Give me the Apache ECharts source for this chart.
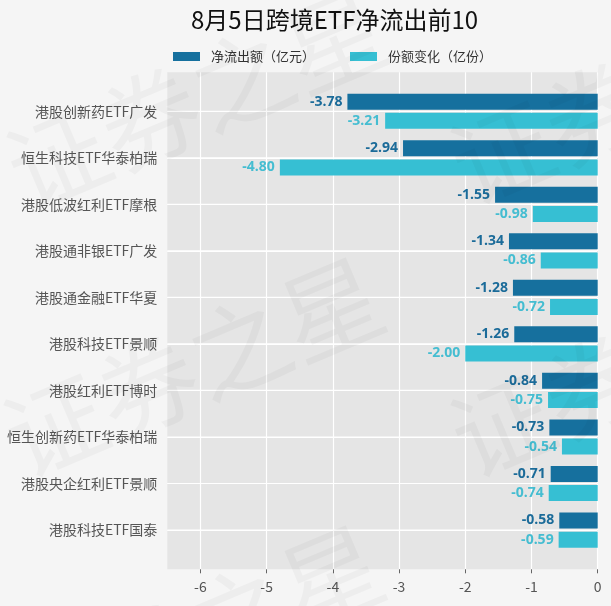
<!DOCTYPE html>
<html>
<head>
<meta charset="utf-8">
<script src="https://cdn.jsdelivr.net/npm/echarts@6/dist/echarts.min.js"></script>
<style>
  html, body { margin: 0; padding: 0; background: #f5f5f5; }
  #chart { width: 611px; height: 606px; }
</style>
</head>
<body>
<div id="chart"></div>
<script>
var categories = ['港股创新药ETF广发', '恒生科技ETF华泰柏瑞', '港股低波红利ETF摩根', '港股通非银ETF广发', '港股通金融ETF华夏',
                  '港股科技ETF景顺', '港股红利ETF博时', '恒生创新药ETF华泰柏瑞', '港股央企红利ETF景顺', '港股科技ETF国泰'];
var netOutflow = [-3.78, -2.94, -1.55, -1.34, -1.28, -1.26, -0.84, -0.73, -0.71, -0.58];
var shareChange = [-3.21, -4.80, -0.98, -0.86, -0.72, -2.00, -0.75, -0.54, -0.74, -0.59];
var xTicks = [-6, -5, -4, -3, -2, -1, 0];
var seriesNames = ['净流出额（亿元）', '份额变化（亿份）'];

var font = '"Noto Sans CJK SC", "Noto Sans", sans-serif';

// watermark text, tiled
var marks = [[12, 177], [9, 445], [9, 713], [456, 172], [456, 445]];
var graphics = marks.map(function (p) {
    return {
        type: 'text', x: p[0], y: p[1], rotation: 0.4, z: 100, silent: true,
        style: { text: '证券之星', fontSize: 100, fontFamily: font, fill: 'rgba(0,0,0,0.03)', verticalAlign: 'middle' }
    };
});

var myChart = echarts.init(document.getElementById('chart'));

var option = {
    backgroundColor: '#f5f5f5',
    title: {
        text: '8月5日跨境ETF净流出前10',
        left: 191, top: 8, padding: 0,
        textStyle: { fontSize: 24, fontWeight: 'normal', color: '#111', fontFamily: font }
    },
    legend: {
        data: seriesNames,
        left: 173, top: 50, padding: 0,
        itemWidth: 27, itemHeight: 9, itemGap: 35,
        icon: 'rect',
        textStyle: { fontSize: 13, color: '#333', fontFamily: font, padding: [0, 0, 0, 6] }
    },
    graphic: graphics,
    grid: [
        // panel background + x axis
        { left: 167.3, right: 13.3, top: 72.3, bottom: 36.7, show: true, backgroundColor: '#e5e5e5', borderWidth: 0 },
        // bars + category labels
        { left: 167.3, right: 13.3, top: 88, bottom: 52.7 },
        // spans first to last row centre: its band edges give the horizontal grid lines
        { left: 167.3, right: 13.3, top: 111.3, bottom: 76 }
    ],
    xAxis: [
        {
            gridIndex: 0, type: 'value', min: -6.5, max: 0, minInterval: 1, maxInterval: 1,
            axisLine: { show: false },
            axisTick: { show: true, length: 4, customValues: xTicks, lineStyle: { color: '#666' } },
            axisLabel: { customValues: xTicks, fontSize: 14, color: '#555', margin: 10, fontFamily: font },
            splitLine: { show: true, lineStyle: { color: '#ffffff', width: 1.2 } }
        },
        { gridIndex: 1, type: 'value', min: -6.5, max: 0, show: false },
        { gridIndex: 2, type: 'value', min: -6.5, max: 0, show: false }
    ],
    yAxis: [
        { gridIndex: 0, type: 'value', min: 0, max: 1, show: false },
        {
            gridIndex: 1, type: 'category', data: categories, inverse: true,
            axisLine: { show: false },
            axisTick: { show: true, alignWithLabel: true, length: 4, lineStyle: { color: '#666' } },
            axisLabel: { fontSize: 14, color: '#555', margin: 10, fontFamily: font },
            splitLine: { show: false }
        },
        {
            gridIndex: 2, type: 'category', data: categories.slice(1), z: 10,
            axisLine: { show: false }, axisTick: { show: false }, axisLabel: { show: false },
            splitLine: { show: true, lineStyle: { color: '#ffffff', width: 1.2 } }
        }
    ],
    series: [
        {
            name: seriesNames[0], type: 'bar', xAxisIndex: 1, yAxisIndex: 1,
            data: netOutflow, barWidth: 16, barGap: '20%',
            itemStyle: { color: '#16709e' },
            label: {
                show: true, position: 'left', distance: 5,
                fontSize: 14, fontWeight: 'bold', color: '#1b6b99', fontFamily: '"Open Sans", sans-serif',
                formatter: function (p) { return p.value.toFixed(2); }
            },
            // zero-height areas on each category tick: white horizontal grid lines
            markArea: {
                silent: true, animation: false, z: 10, label: { show: false },
                itemStyle: { color: 'rgba(0,0,0,0)', borderColor: '#ffffff', borderWidth: 1.2 },
                data: categories.map(function (c) { return [{ yAxis: c }, { yAxis: c }]; })
            }
        },
        {
            name: seriesNames[1], type: 'bar', xAxisIndex: 1, yAxisIndex: 1,
            data: shareChange, barWidth: 16, barGap: '20%',
            itemStyle: { color: '#36bfd3' },
            label: {
                show: true, position: 'left', distance: 5,
                fontSize: 14, fontWeight: 'bold', color: '#45bdd1', fontFamily: '"Open Sans", sans-serif',
                formatter: function (p) { return p.value.toFixed(2); }
            }
        }
    ]
};

myChart.setOption(option);
</script>
</body>
</html>
